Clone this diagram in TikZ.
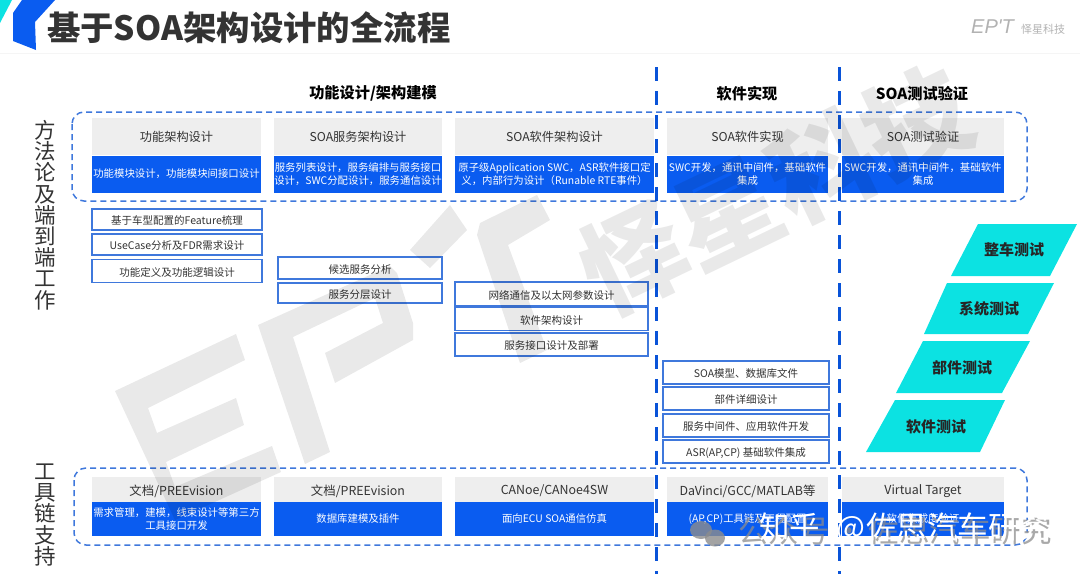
\documentclass[tikz,border=0pt]{standalone}
\usepackage{fontspec}
\setmainfont{Noto Sans CJK SC}
\newfontfamily\logofont{Liberation Sans}
\definecolor{eptblue}{HTML}{0A5CF0}
\definecolor{eptline}{HTML}{3F78DC}
\definecolor{eptcyan}{HTML}{0CE2E2}
\definecolor{eptgrey}{HTML}{EEEEEE}
\definecolor{eptink}{HTML}{333333}
\tikzset{
	headbox/.style={fill=eptgrey, text=eptink, inner sep=0pt, font=\fontsize{12.2}{14}\selectfont},
	toolbox/.style={headbox, font=\fontsize{12.4}{14}\selectfont},
	bluebox/.style={fill=eptblue, text=white, inner sep=0pt, align=center, font=\fontsize{10.4}{12.4}\selectfont},
	taskbox/.style={draw=eptline, line width=1.4pt, fill=white, text=eptink, inner sep=0pt, text height=11pt, text depth=1pt, font=\fontsize{10.5}{12}\selectfont},
	phaselabel/.style={text=black, inner sep=0pt, font=\fontsize{15.2}{17}\selectfont\bfseries},
	sidelabel/.style={text=eptink, inner sep=0pt, align=center, font=\fontsize{21.5}{21.2}\selectfont},
	testlabel/.style={text=black!85, inner sep=0pt, font=\fontsize{15}{17}\selectfont\bfseries},
	testshape/.style={fill=eptcyan},
	groupframe/.style={draw=eptline, line width=1.5pt, dash pattern=on 6pt off 4pt, rounded corners=12pt},
	phaseline/.style={draw=eptblue!90!black, line width=3pt, dash pattern=on 14pt off 10pt},
	wmark/.style={fill=black, opacity=.085}
}
\begin{document}
\begin{tikzpicture}[x=1pt,y=-1pt]
	\useasboundingbox (0,0) rectangle (1080,574);
	% logo and title
	\fill [eptcyan] (0,0) -- (12,0) -- (0,23) -- cycle;
	\fill [eptblue] (22,0) -- (55,0) -- (35,22) -- (36,50) -- (13,41) -- (13,13) -- cycle;
	\node [text=eptink, inner sep=0pt, anchor=west, font=\fontsize{33.4}{36}\selectfont\bfseries] (title) at (47,28) {基于SOA架构设计的全流程};
	\draw [black!4] (0,53) -- (1080,53);
	\node [text=black!30, inner sep=0pt, anchor=west, font=\logofont\fontsize{20}{22}\selectfont\itshape] (logoA) at (971,27) {EP'T};
	\node [text=black!30, inner sep=0pt, anchor=west, font=\fontsize{11}{12}\selectfont] (logoB) at (1021,29) {怿星科技};
	% phase titles
	\node [phaselabel] (phaseA) at (373,93.5) {功能设计/架构建模};
	\node [phaselabel] (phaseB) at (747,93.5) {软件实现};
	\node [phaselabel] (phaseC) at (922,93.5) {SOA测试验证};
	% side titles
	\node [sidelabel] (sideA) at (45,215) {方\\法\\论\\及\\端\\到\\端\\工\\作};
	\node [sidelabel] (sideB) at (45,515) {工\\具\\链\\支\\持};
	% method row
	\node [headbox, minimum width=169pt, minimum height=37pt] (methodA) at (176.5,136.5) {功能架构设计};
	\node [headbox, minimum width=168pt, minimum height=37pt] (methodB) at (358,136.5) {SOA服务架构设计};
	\node [headbox, minimum width=199pt, minimum height=37pt] (methodC) at (554.5,136.5) {SOA软件架构设计};
	\node [headbox, minimum width=161pt, minimum height=37pt] (methodD) at (747.5,136.5) {SOA软件实现};
	\node [headbox, minimum width=162pt, minimum height=37pt] (methodE) at (923,136.5) {SOA测试验证};
	\node [bluebox, minimum width=169pt, minimum height=37pt] (detailA) at (176.5,174) {功能模块设计，功能模块间接口设计};
	\node [bluebox, minimum width=168pt, minimum height=37pt] (detailB) at (358,174) {服务列表设计，服务编排与服务接口\\设计，SWC分配设计，服务通信设计};
	\node [bluebox, minimum width=199pt, minimum height=37pt] (detailC) at (554.5,174) {原子级Application SWC，ASR软件接口定\\义，内部行为设计（Runable RTE事件）};
	\node [bluebox, minimum width=161pt, minimum height=37pt] (detailD) at (747.5,174) {SWC开发，通讯中间件，基础软件\\集成};
	\node [bluebox, minimum width=162pt, minimum height=37pt] (detailE) at (923,174) {SWC开发，通讯中间件，基础软件\\集成};
	% tool row
	\node [toolbox, minimum width=169pt, minimum height=28pt] (toolA) at (176.5,491) {文档/PREEvision};
	\node [toolbox, minimum width=168pt, minimum height=28pt] (toolB) at (358,491) {文档/PREEvision};
	\node [toolbox, minimum width=199pt, minimum height=28pt] (toolC) at (554.5,491) {CANoe/CANoe4SW};
	\node [toolbox, minimum width=161pt, minimum height=28pt] (toolD) at (747.5,491) {DaVinci/GCC/MATLAB等};
	\node [toolbox, minimum width=162pt, minimum height=28pt] (toolE) at (923,491) {Virtual Target};
	\node [bluebox, minimum width=169pt, minimum height=34pt] (useA) at (176.5,519) {需求管理，建模，线束设计等第三方\\工具接口开发};
	\node [bluebox, minimum width=168pt, minimum height=34pt] (useB) at (358,519) {数据库建模及插件};
	\node [bluebox, minimum width=199pt, minimum height=34pt] (useC) at (554.5,519) {面向ECU SOA通信仿真};
	\node [bluebox, minimum width=161pt, minimum height=34pt] (useD) at (747.5,519) {(AP,CP)工具链及工程配置};
	\node [bluebox, minimum width=162pt, minimum height=34pt] (useE) at (923,519) {软件集成度验证};
	% dashed frames
	\draw [groupframe] (72,112) rectangle (1027,201);
	\draw [groupframe] (74,468) rectangle (1027,545);
	% task stacks
	\node [taskbox, minimum width=170pt, minimum height=21pt] (featA) at (177,219.5) {基于车型配置的Feature梳理};
	\node [taskbox, minimum width=170pt, minimum height=21pt] (featB) at (177,244.5) {UseCase分析及FDR需求设计};
	\node [taskbox, minimum width=170pt, minimum height=23pt] (featC) at (177,271) {功能定义及功能逻辑设计};
	\node [taskbox, minimum width=164pt, minimum height=22pt] (svcA) at (360,268) {候选服务分析};
	\node [taskbox, minimum width=164pt, minimum height=20pt] (svcB) at (360,293) {服务分层设计};
	\node [taskbox, minimum width=193pt, minimum height=24pt] (swA) at (551.5,294) {网络通信及以太网参数设计};
	\node [taskbox, minimum width=193pt, minimum height=23pt] (swB) at (551.5,319) {软件架构设计};
	\node [taskbox, minimum width=193pt, minimum height=23pt] (swC) at (551.5,344.5) {服务接口设计及部署};
	\node [taskbox, minimum width=166pt, minimum height=23pt] (implA) at (746,372.5) {SOA模型、数据库文件};
	\node [taskbox, minimum width=166pt, minimum height=23pt] (implB) at (746,398.5) {部件详细设计};
	\node [taskbox, minimum width=166pt, minimum height=23pt] (implC) at (746,425.5) {服务中间件、应用软件开发};
	\node [taskbox, minimum width=166pt, minimum height=23pt] (implD) at (746,451.5) {ASR(AP,CP) 基础软件集成};
	% test levels
	\fill [testshape] (978,224) -- (1077,224) -- (1050,276) -- (951,276) -- cycle;
	\fill [testshape] (947,283) -- (1054,283) -- (1028,334) -- (924,334) -- cycle;
	\fill [testshape] (923,341) -- (1030,341) -- (1002,393) -- (896,393) -- cycle;
	\fill [testshape] (895,400) -- (1005,400) -- (980,452) -- (866,452) -- cycle;
	\node [testlabel] (testA) at (1014,250) {整车测试};
	\node [testlabel] (testB) at (989,309) {系统测试};
	\node [testlabel] (testC) at (962,368) {部件测试};
	\node [testlabel] (testD) at (936,427) {软件测试};
	% phase separators
	\draw [phaseline] (656,67) -- (656,574);
	\draw [phaseline] (839,67) -- (839,574);
	% watermark
	\fill [wmark] (236,334) -- (245,360) -- (148,408) -- (157,433) -- (236,398) -- (244,425) -- (166,462) -- (175,487) -- (272,446) -- (281,472) -- (175,520) -- (115,391) -- cycle;
	\fill [wmark] (258,325) -- (390,266) -- (397,273) -- (413,323) -- (413,340) -- (335,383) -- (325,353) -- (383,323) -- (375,298) -- (293,337) -- (330,452) -- (305,464) -- cycle;
	\fill [wmark] (410,250) -- (450,205) -- (467,230) -- (430,268) -- cycle;
	\fill [wmark] (537,195) -- (480,223) -- (477,235) -- (520,363) -- (547,350) -- (508,245) -- (550,220) -- cycle;
	\node [text=black, text opacity=.085, inner sep=0pt, rotate=25.7, font=\fontsize{105}{105}\selectfont\bfseries] (wmtext) at (775,190) {怿星科技};
	% overlaid account marks
	\fill [black!45, opacity=.8] (701,530) ellipse (11pt and 9pt);
	\fill [black!45, opacity=.8] (715,538) ellipse (10pt and 8.5pt);
	\node [text=black!45, text opacity=.75, inner sep=0pt, anchor=west, font=\fontsize{30.5}{32}\selectfont] (markA) at (738,531) {公众号\makebox[39pt]{·}佐思汽车研究};
	\node [text=white, inner sep=0pt, anchor=west, font=\fontsize{30.5}{32}\selectfont] (markB) at (759,528) {知乎\makebox[46pt][r]{@\hspace{1pt}}佐思汽车研究};
\end{tikzpicture}
\end{document}
